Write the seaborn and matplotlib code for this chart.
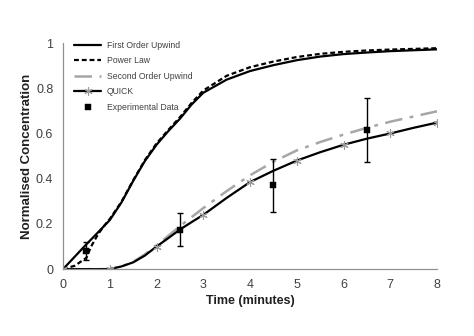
import matplotlib
matplotlib.use("Agg")
import matplotlib.pyplot as plt
import seaborn as sns

# ---- data ----
time = [0, 0.25, 0.5, 0.75, 1, 1.25, 1.5, 1.75, 2, 2.25, 2.5, 2.75, 3,
        3.5, 4, 4.5, 5, 5.5, 6, 6.5, 7, 7.5, 8]
first_order = [0, 0.055, 0.11, 0.163, 0.217, 0.295, 0.39, 0.478, 0.55, 0.61, 0.665, 0.728, 0.78,
               0.838, 0.876, 0.902, 0.924, 0.94, 0.951, 0.958, 0.964, 0.968, 0.972]
second_order = [0, 0, 0, 0, 0, 0.012, 0.032, 0.065, 0.105, 0.147, 0.19, 0.23, 0.27,
                0.345, 0.415, 0.475, 0.525, 0.562, 0.595, 0.625, 0.652, 0.675, 0.698]
quick = [0, 0, 0, 0, 0, 0.012, 0.03, 0.06, 0.1, 0.137, 0.175, 0.208, 0.24,
         0.315, 0.385, 0.435, 0.48, 0.517, 0.55, 0.577, 0.60, 0.625, 0.648]

power_time = [0, 0.25, 0.5, 0.6, 0.75, 0.9, 1, 1.25, 1.5, 1.75, 2, 2.25, 2.5, 2.75, 3,
              3.5, 4, 4.5, 5, 5.5, 6, 6.5, 7, 7.5, 8]
power_law = [0, 0.015, 0.05, 0.1, 0.155, 0.197, 0.222, 0.298, 0.393, 0.482, 0.556, 0.615,
             0.672, 0.735, 0.79, 0.855, 0.893, 0.918, 0.938, 0.952, 0.961, 0.967, 0.971,
             0.974, 0.977]

exp_time = [0.5, 2.5, 4.5, 6.5]
exp_conc = [0.08, 0.175, 0.37, 0.617]
exp_err = [0.04, 0.072, 0.118, 0.142]

x_ticks = [0, 1, 2, 3, 4, 5, 6, 7, 8]
y_ticks = [0, 0.2, 0.4, 0.6, 0.8, 1]
y_tick_labels = ["0", "0.2", "0.4", "0.6", "0.8", "1"]

# ---- style ----
sns.set_theme(style="white")
plt.rcParams['font.family'] = ['Liberation Sans', 'DejaVu Sans']

fig = plt.figure(figsize=(4.74, 3.36), dpi=100)
ax = fig.add_axes([0.133, 0.199, 0.789, 0.673])

sns.lineplot(x=time, y=first_order, ax=ax, color="black", lw=1.6,
             label="First Order Upwind", sort=False)
sns.lineplot(x=power_time, y=power_law, ax=ax, color="black", lw=1.6,
             label="Power Law", sort=False)
ax.lines[-1].set_dashes([2.2, 1.3])
sns.lineplot(x=time, y=second_order, ax=ax, color="#a6a6a6", lw=1.8,
             label="Second Order Upwind", sort=False)
ax.lines[-1].set_dashes([7, 3, 1.5, 3])

marker_idx = [i for i, t in enumerate(time) if float(t).is_integer()]
sns.lineplot(x=time, y=quick, ax=ax, color="black", lw=1.6, label="QUICK", sort=False,
             marker=(6, 2, 0), markersize=6, markeredgecolor="#9a9a9a",
             markeredgewidth=0.8, markevery=marker_idx)

ax.errorbar(exp_time, exp_conc, yerr=exp_err, fmt="none", ecolor="black",
            elinewidth=1.0, capsize=2.5, capthick=1.0, zorder=4)
sns.scatterplot(x=exp_time, y=exp_conc, ax=ax, marker="s", s=15, color="black",
                edgecolor="black", label="Experimental Data", zorder=5)

ax.set_xlim(0, 8)
ax.set_ylim(0, 1)
ax.set_xticks(x_ticks)
ax.set_yticks(y_ticks)
ax.set_yticklabels(y_tick_labels)
ax.tick_params(axis="both", direction="out", length=3, width=0.8, color="#909090",
               labelsize=9, labelcolor="#404040", pad=4)
for s in ["top", "right"]:
    ax.spines[s].set_visible(False)
for s in ["left", "bottom"]:
    ax.spines[s].set_color("#909090")
    ax.spines[s].set_linewidth(0.9)

ax.set_xlabel("Time (minutes)", fontsize=9, fontweight="bold", color="#202020", labelpad=3)
ax.set_ylabel("Normalised Concentration", fontsize=9.5, fontweight="bold", color="#202020",
              labelpad=2)

leg = ax.legend(loc="upper left", bbox_to_anchor=(0.013, 1.037), frameon=False,
                fontsize=6.2, handlelength=3.2, handletextpad=0.6, labelspacing=0.75,
                borderaxespad=0.3, labelcolor="#404040")

fig.savefig("out.png", dpi=100)
